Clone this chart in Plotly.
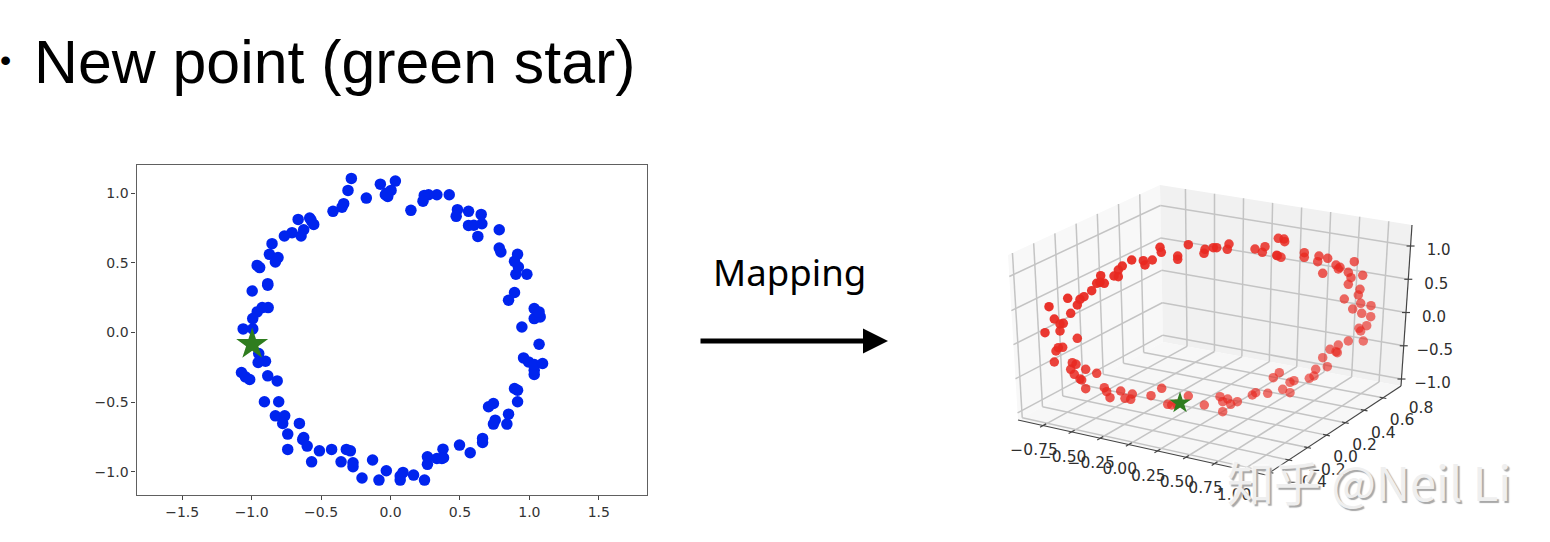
import numpy as np
import plotly.graph_objects as go

# blue points of the 2d plot
ring_x = [-.282, -.306, -.337, -.349, -.414, -.073, -.174, -.037, -.665, -.582, -.572, -.553, -.625, -.644, -.709,
          -.764, -.853, -.872, -.81, -.829, -.96, -.942, -.884, -.996, -.884, -.881, -.924, -.96, -.992, -1.061,
          -.992, -.949, -.90, -.953, -1.073, -1.045, -1.014, -.884, -.816, -.908, -.805, -.829, -.762, -.776, -.74,
          -.656, -.625, -.632, -.60, -.74, -.568, -.512, -.424, -.356, -.318, -.289, -.27, -.27, -.205, -.129,
          -.083, -.03, .07, .09, .07, .166, .245, .266, .266, .334, .378, .382, .37, .497, .574, .663, .663, .741,
          .754, .706, .741, .838, .85, .915, .893, .915, 1.035, 1.035, .958, .994, 1.035, 1.095, 1.07, .946, 1.035,
          1.078, 1.035, 1.07, .85, .893, .982, .903, .921, .893, .915, .795, .783, .783, .629, .658, .653, .562,
          .6, .562, .482, .473, .423, .334, .274, .243, .234, .147, .035, .004, -.02, -.03]
ring_y = [1.106, 1.02, .925, .90, .87, 1.065, .965, .989, .812, .822, .805, .776, .738, .693, .717,
          .693, .638, .561, .538, .506, .482, .466, .351, .298, .34, .179, .179, .148, .10, .026,
          .026, -.151, -.206, -.215, -.287, -.318, -.337, -.311, -.347, -.497, -.497, -.598, -.598, -.652, -.729,
          -.652, -.753, -.767, -.815, -.839, -.928, -.849, -.839, -.928, -.839, -.849, -.935, -.963, -1.044, -.915,
          -1.059, -.992, -1.059, -1.004, -1.03, -1.023, -1.059, -.892, -.946, -.904, -.837, -.899, -.904, -.808,
          -.863, -.76, -.789, -.657, -.629, -.533, -.509, -.657, -.586, -.497, -.402, -.414, -.301, -.27, -.182,
          -.211, -.23, -.222, -.084, .04, .10, .112, .172, .148, .232, .287, .418, .418, .47, .511, .561, .578,
          .606, .738, .69, .781, .848, .769, .77, .87, .882, .834, .989, .989, .989, .984, .943, .877, 1.087, 1.02,
          .977, 1.0]
star_x = [-.996]
star_y = [-.084]

x_ticks = [-1.5, -1.0, -.5, 0, .5, 1.0, 1.5]
y_ticks = [-1.0, -.5, 0, .5, 1.0]

# red points in the view plane of the 3d box
red_u = [1160, 1161.3, 1188.3, 1177.7, 1177.7, 1205, 1204, 1213.3, 1216.7, 1229, 1227.3, 1255, 1262.3, 1265, 1278.3,
         1277.3, 1152.3, 1143.3, 1145, 1131.7, 1122.3, 1118.3, 1118.3, 1114, 1100.7, 1100, 1096.7, 1104.3, 1091.7,
         1084, 1080, 1077.3, 1067.7, 1049, 1070.7, 1054.3, 1063.3, 1060, 1060, 1045, 1077.3, 1062.7, 1058.3, 1056,
         1054.3, 1072.3, 1076, 1070.7, 1074.3, 1085.7, 1096.7, 1080, 1081.7, 1085.7, 1104.3, 1106.7, 1110, 1120.7,
         1125, 1130.7, 1132.3, 1151, 1161.7, 1167.7, 1171.7, 1176.7, 1188.3, 1204.3, 1220, 1222.7, 1227.7, 1230.7,
         1237.3, 1222.7, 1252.3, 1255.7, 1267.7, 1273.3, 1279.3, 1282.7, 1290, 1290, 1294, 1309.3, 1314, 1315.7,
         1327.3, 1322.7, 1330, 1337.3, 1336, 1338.3, 1348.3, 1363.3, 1284, 1284.7, 1276.7, 1281, 1304.3, 1304.3,
         1319, 1317.7, 1327.7, 1336, 1340, 1338.3, 1354.3, 1322.7, 1348.3, 1351, 1362.7, 1348.3, 1360, 1358.3,
         1344.3, 1360.7, 1371, 1352.7, 1361.7, 1370.7, 1366.7, 1359, 1360.7]
red_v = [247.3, 252.3, 244.7, 256, 259.3, 249.3, 253.3, 247.7, 247.7, 244, 249.3, 249, 252.3, 246.7, 238.3,
         255.7, 260, 260.7, 265, 260, 266, 270, 276.7, 276, 275.7, 282.3, 283.3, 283.3, 290.7,
         296.7, 299.3, 305, 298.3, 306.7, 313.3, 319, 323.3, 324, 331, 332.7, 338.3, 347.3, 347.7, 351,
         362, 362.7, 364.3, 369.3, 374.3, 369.3, 373.3, 379, 380, 388.7, 387.7, 391.7, 397.7, 391,
         398.3, 399.3, 394, 395.7, 388.3, 404.3, 405, 404, 396, 405, 396.7, 401.7, 399, 404.3,
         401.7, 411.7, 395, 392.7, 393.3, 377.7, 372.7, 389.3, 392.7, 382.3, 380.7, 378.3, 376, 369.3,
         366.7, 357.7, 349.3, 352.7, 351.7, 345, 341, 341, 239, 241.7, 255.3, 257.3, 252.7, 257.3,
         256, 261.7, 258.3, 265, 267.3, 269, 261.7, 273.3, 272.3, 277.7, 275.3, 284.3, 289.3, 295,
         299, 303.3, 305.7, 309, 313.3, 316.7, 325.7, 328.3, 331]
star_u = [1180]
star_v = [403]

x3_ticks = [-.75, -.5, -.25, 0, .25, .5, .75, 1.0]
y3_ticks = [-.4, -.2, 0, .2, .4, .6, .8]
z3_ticks = [-1.0, -.5, 0, .5, 1.0]

# limits of the 3d box and where its corners land in the view plane
xlo, xhi = -.969, 1.2
ylo, yhi = -.442, .991
zlo, zhi = -1.105, 1.316
corners_low = {'l': (1018, 420), 'f': (1266, 475), 'r': (1401, 386), 'b': (1163, 342)}
corners_high = {'l': (1008, 255), 'f': (1278, 315), 'r': (1412, 225), 'b': (1160, 185)}


def view(x, y, z):
    tx = (x - xlo) / (xhi - xlo)
    ty = (y - ylo) / (yhi - ylo)
    tz = (z - zlo) / (zhi - zlo)
    out = []
    for i in range(2):
        low = (corners_low['l'][i] * (1 - tx) + corners_low['f'][i] * tx) * (1 - ty) \
            + (corners_low['b'][i] * (1 - tx) + corners_low['r'][i] * tx) * ty
        high = (corners_high['l'][i] * (1 - tx) + corners_high['f'][i] * tx) * (1 - ty) \
            + (corners_high['b'][i] * (1 - tx) + corners_high['r'][i] * tx) * ty
        out.append(low * (1 - tz) + high * tz)
    return out


def add_segments(fig, segments, color, width):
    us, vs = [], []
    for a, b in segments:
        us += [a[0], b[0], None]
        vs += [a[1], b[1], None]
    fig.add_trace(go.Scatter(x=us, y=vs, mode='lines', xaxis='x2', yaxis='y2', hoverinfo='skip',
                             line=dict(color=color, width=width)))


def add_pane(fig, points, color):
    us = [p[0] for p in points]
    vs = [p[1] for p in points]
    fig.add_trace(go.Scatter(x=us, y=vs, mode='lines', xaxis='x2', yaxis='y2', hoverinfo='skip',
                             fill='toself', fillcolor=color, line=dict(width=0)))


def add_labels(fig, ticks, positions, fmt, size):
    fig.add_trace(go.Scatter(x=[p[0] for p in positions], y=[p[1] for p in positions], mode='text',
                             xaxis='x2', yaxis='y2', hoverinfo='skip',
                             text=[fmt % t if t >= 0 else '\u2212' + fmt % -t for t in ticks],
                             textposition='middle center',
                             textfont=dict(family='DejaVu Sans', size=size, color='#2e2e2e')))


fig = go.Figure()

# left plot
fig.add_trace(go.Scatter(x=ring_x, y=ring_y, mode='markers', hoverinfo='skip',
                         marker=dict(color='#0024ee', size=11.5)))
fig.add_trace(go.Scatter(x=star_x, y=star_y, mode='markers', hoverinfo='skip',
                         marker=dict(color='#2f7d1f', size=24, symbol='star')))

# 3d box
add_pane(fig, [view(xlo, ylo, zlo), view(xlo, yhi, zlo), view(xlo, yhi, zhi), view(xlo, ylo, zhi)], '#f8f8f8')
add_pane(fig, [view(xlo, yhi, zlo), view(xhi, yhi, zlo), view(xhi, yhi, zhi), view(xlo, yhi, zhi)], '#f1f1f1')
add_pane(fig, [view(xlo, ylo, zlo), view(xhi, ylo, zlo), view(xhi, yhi, zlo), view(xlo, yhi, zlo)], '#f7f7f7')

grid = []
for x in x3_ticks:
    grid.append((view(x, ylo, zlo), view(x, yhi, zlo)))
    grid.append((view(x, yhi, zlo), view(x, yhi, zhi)))
for y in y3_ticks:
    grid.append((view(xlo, y, zlo), view(xhi, y, zlo)))
    grid.append((view(xlo, y, zlo), view(xlo, y, zhi)))
for z in z3_ticks:
    grid.append((view(xlo, ylo, z), view(xlo, yhi, z)))
    grid.append((view(xlo, yhi, z), view(xhi, yhi, z)))
add_segments(fig, grid, '#c4c4c4', 1.5)

edges = [(view(xlo, ylo, zlo), view(xhi, ylo, zlo)),
         (view(xhi, ylo, zlo), view(xhi, yhi, zlo)),
         (view(xhi, yhi, zlo), view(xhi, yhi, zhi))]
for x in x3_ticks:
    edges.append((view(x, ylo - .03, zlo), view(x, ylo + .03, zlo)))
for y in y3_ticks:
    edges.append((view(xhi - .03, y, zlo), view(xhi + .03, y, zlo)))
for z in z3_ticks:
    u, v = view(xhi, yhi, z)
    edges.append(([u - 4, v], [u + 4, v]))
add_segments(fig, edges, '#444444', 1.2)

# red points fade with depth in the original view
red_alpha = np.clip(1.05 - .0009 * (np.array(red_u) - 1040) - .0013 * (np.array(red_v) - 240), .45, 1)
fig.add_trace(go.Scatter(x=red_u, y=red_v, mode='markers', xaxis='x2', yaxis='y2', hoverinfo='skip',
                         marker=dict(color='rgb(232,40,32)', size=9.5, opacity=red_alpha, line=dict(width=0))))
fig.add_trace(go.Scatter(x=star_u, y=star_v, mode='markers', xaxis='x2', yaxis='y2', hoverinfo='skip',
                         marker=dict(color='#2f7d1f', size=16.5, symbol='star')))

xpos = [[view(t, ylo, zlo)[0] - 9, view(t, ylo, zlo)[1] + 26] for t in x3_ticks]
ypos = [[view(xhi, t, zlo)[0] + 38, view(xhi, t, zlo)[1] + 11] for t in y3_ticks]
zpos = [[view(xhi, yhi, t)[0] + (31 if t < 0 else 28), view(xhi, yhi, t)[1] + 5.5] for t in z3_ticks]
add_labels(fig, x3_ticks, xpos, '%.2f', 15.5)
add_labels(fig, y3_ticks, ypos, '%.1f', 15.5)
add_labels(fig, z3_ticks, zpos, '%.1f', 15)

fig.add_annotation(x=31.5, y=62, xref='x2', yref='y2', xanchor='left', yanchor='middle', showarrow=False,
                   text='New point (green star)', font=dict(family='Liberation Sans', size=60.8, color='#000000'))
fig.add_annotation(x=5, y=60, xref='x2', yref='y2', xanchor='center', yanchor='middle', showarrow=False,
                   text='\u2022', font=dict(family='Liberation Sans', size=32, color='#000000'))
fig.add_annotation(x=789, y=272, xref='x2', yref='y2', xanchor='center', yanchor='middle', showarrow=False,
                   text='Mapping', font=dict(family='Noto Sans', size=36.6, color='#000000'))
fig.add_annotation(x=888, y=341, ax=699, ay=341, xref='x2', yref='y2', axref='x2', ayref='y2', text='',
                   showarrow=True, arrowhead=2, arrowsize=1, arrowwidth=5, arrowcolor='#000000')
fig.add_annotation(x=1369, y=480, xref='x2', yref='y2', xanchor='center', yanchor='middle', showarrow=False,
                   text='知乎 @Neil Li',
                   font=dict(family='Noto Sans CJK SC', size=47, color='#efefef',
                             shadow='2px 2px 1px #a8a8a8, -1px -1px 2px #ffffff'))

fig.update_layout(
    width=1550,
    height=542,
    margin=dict(l=0, r=0, t=0, b=0),
    paper_bgcolor='white',
    plot_bgcolor='rgba(0,0,0,0)',
    showlegend=False,
    font=dict(family='DejaVu Sans', size=13, color='#333333'),
    xaxis=dict(domain=[136.5 / 1550, 647 / 1550], range=[-1.829, 1.847], tickvals=x_ticks, tickformat='.1f',
               ticks='outside', ticklen=4, tickcolor='#444444', showgrid=False, zeroline=False,
               tickfont=dict(family='DejaVu Sans', size=14, color='#333333'),
               showline=True, mirror=True, linecolor='#606060', linewidth=1.2),
    yaxis=dict(domain=[47 / 542, 377.5 / 542], range=[-1.166, 1.206], tickvals=y_ticks, tickformat='.1f',
               ticks='outside', ticklen=4, tickcolor='#444444', showgrid=False, zeroline=False,
               tickfont=dict(family='DejaVu Sans', size=14, color='#333333'),
               showline=True, mirror=True, linecolor='#606060', linewidth=1.2),
    xaxis2=dict(domain=[0, 1], range=[0, 1550], visible=False, anchor='y2'),
    yaxis2=dict(domain=[0, 1], range=[542, 0], visible=False, anchor='x2'),
)

fig.write_html("out.html", config={'displayModeBar': False},
               post_script="document.body.style.margin='0';document.body.style.overflow='hidden';")
